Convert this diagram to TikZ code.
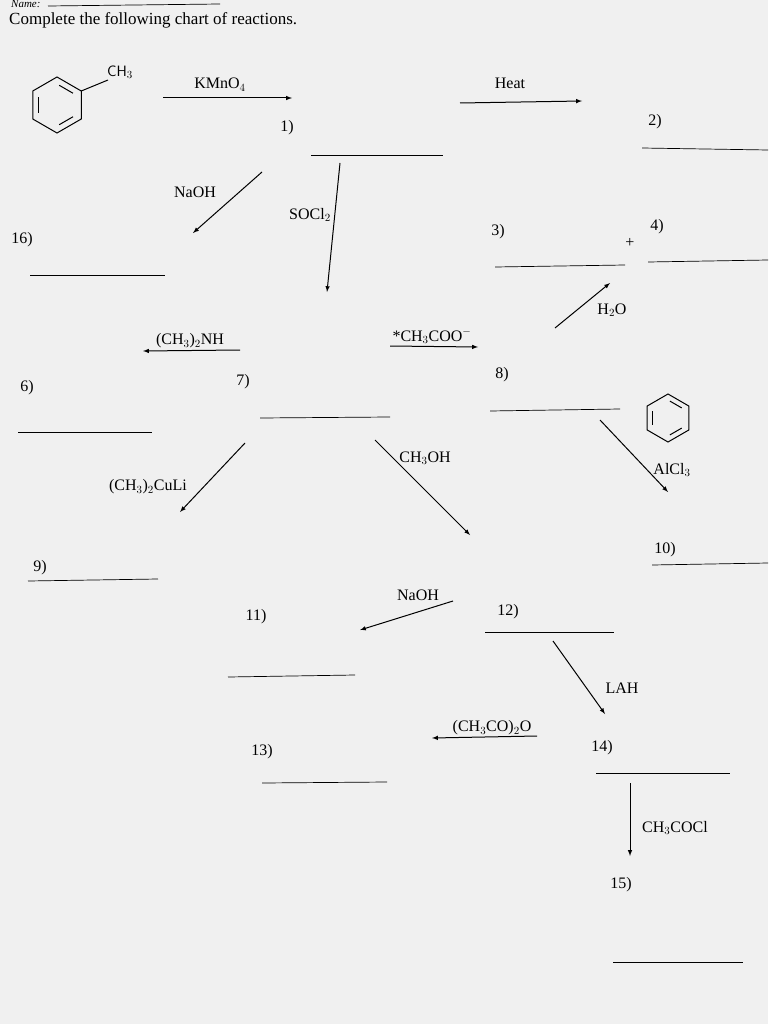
\documentclass[tikz,border=0pt]{standalone}
\usepackage{fontspec}
\setmainfont{Liberation Serif}
\usetikzlibrary{calc}
\begin{document}
\begin{tikzpicture}[x=1pt,y=-1pt,
  lbl/.style={font=\fontsize{16}{18}\selectfont, inner sep=1pt},
  blank/.style={line width=0.7pt},
  rxn/.style={line width=1pt,-latex},
  ring/.style={line width=1pt}]
\fill[gray!12] (0,0) rectangle (768,1024);
\useasboundingbox (0,0) rectangle (768,1024);
% header
\node[lbl,anchor=west,font=\fontsize{11}{12}\selectfont\itshape] (nm) at (10,4) {Name:};
\draw[blank] (48,6) -- (220,4);
\node[lbl,anchor=west,font=\fontsize{17}{19}\selectfont] (hd) at (8,20) {Complete the following chart of reactions.};
% toluene
\foreach \i in {0,...,5}{
  \coordinate (t\i) at ({57+28*cos(90+60*\i)},{105-28*sin(90+60*\i)});
  \coordinate (u\i) at ({57+21*cos(90+60*\i)},{105-21*sin(90+60*\i)});}
\draw[ring] (t0)--(t1)--(t2)--(t3)--(t4)--(t5)--cycle;
\foreach \a/\b in {1/2,3/4,5/0}{\draw[ring] ($(u\a)!0.12!(u\b)$) -- ($(u\a)!0.88!(u\b)$);}
\coordinate (ch) at (108,80);
\draw[ring] (t5) -- (ch);
\node[lbl,anchor=west,font=\fontsize{15}{17}\sffamily] (ch3) at (106,72) {CH$_3$};
% benzene 2
\foreach \i in {0,...,5}{
  \coordinate (b\i) at ({668+24*cos(90+60*\i)},{418-24*sin(90+60*\i)});
  \coordinate (v\i) at ({668+18*cos(90+60*\i)},{418-18*sin(90+60*\i)});}
\draw[ring] (b0)--(b1)--(b2)--(b3)--(b4)--(b5)--cycle;
\foreach \a/\b in {1/2,3/4,5/0}{\draw[ring] ($(v\a)!0.12!(v\b)$) -- ($(v\a)!0.88!(v\b)$);}
% blanks with labels
\foreach \n/\lx/\ly/\ax/\ay/\bx/\by in {
 1/287/128/311/155/443/155,
 2/655/122/642/148/768/150,
 16/22/240/30/275/165/275,
 3/498/232/495/267/625/265,
 4/657/227/648/262/768/260,
 6/27/388/18/432/152/432,
 7/243/382/260/418/390/417,
 8/502/375/490/411/620/409,
 10/665/550/652/565/768/563,
 9/40/568/28/581/158/579,
 11/256/617/228/677/355/675,
 12/508/612/485/632/614/632,
 13/262/752/262/783/387/782,
 14/602/748/596/773/730/773,
 15/621/885/613/962/743/962}{
 \node[lbl] (l\n) at (\lx,\ly) {\n)};
 \draw[blank] (\ax,\ay) -- (\bx,\by);}
\node[lbl] (plus) at (630,243) {+};
% reagents
\node[lbl] (kmno4) at (220,85) {KMnO$_4$};
\draw[rxn] (163,98) -- (292,98);
\node[lbl] (heat) at (510,83) {Heat};
\draw[rxn] (460,103) -- (582,101);
\node[lbl] (naoh1) at (195,192) {NaOH};
\draw[rxn] (262,172) -- (193,233);
\node[lbl] (socl2) at (310,215) {SOCl$_2$};
\draw[rxn] (340,163) -- (327,292);
\node[lbl] (h2o) at (612,310) {H$_2$O};
\draw[rxn] (555,328) -- (610,283);
\node[lbl] (me2nh) at (190,341) {(CH$_3$)$_2$NH};
\draw[rxn] (240,350) -- (143,351);
\node[lbl] (acO) at (432,336) {*CH$_3$COO$^-$};
\draw[rxn] (390,346) -- (478,347);
\node[lbl] (meoh) at (425,458) {CH$_3$OH};
\draw[rxn] (375,440) -- (470,535);
\node[lbl] (alcl3) at (672,470) {AlCl$_3$};
\draw[rxn] (600,420) -- (668,492);
\node[lbl] (cuLi) at (148,487) {(CH$_3$)$_2$CuLi};
\draw[rxn] (245,443) -- (180,512);
\node[lbl] (naoh2) at (418,595) {NaOH};
\draw[rxn] (453,601) -- (360,630);
\node[lbl] (lah) at (622,688) {LAH};
\draw[rxn] (553,641) -- (605,714);
\node[lbl] (ac2o) at (492,728) {(CH$_3$CO)$_2$O};
\draw[rxn] (537,736) -- (432,738);
\node[lbl] (accl) at (675,828) {CH$_3$COCl};
\draw[rxn] (630,783) -- (630,856);
\end{tikzpicture}
\end{document}
